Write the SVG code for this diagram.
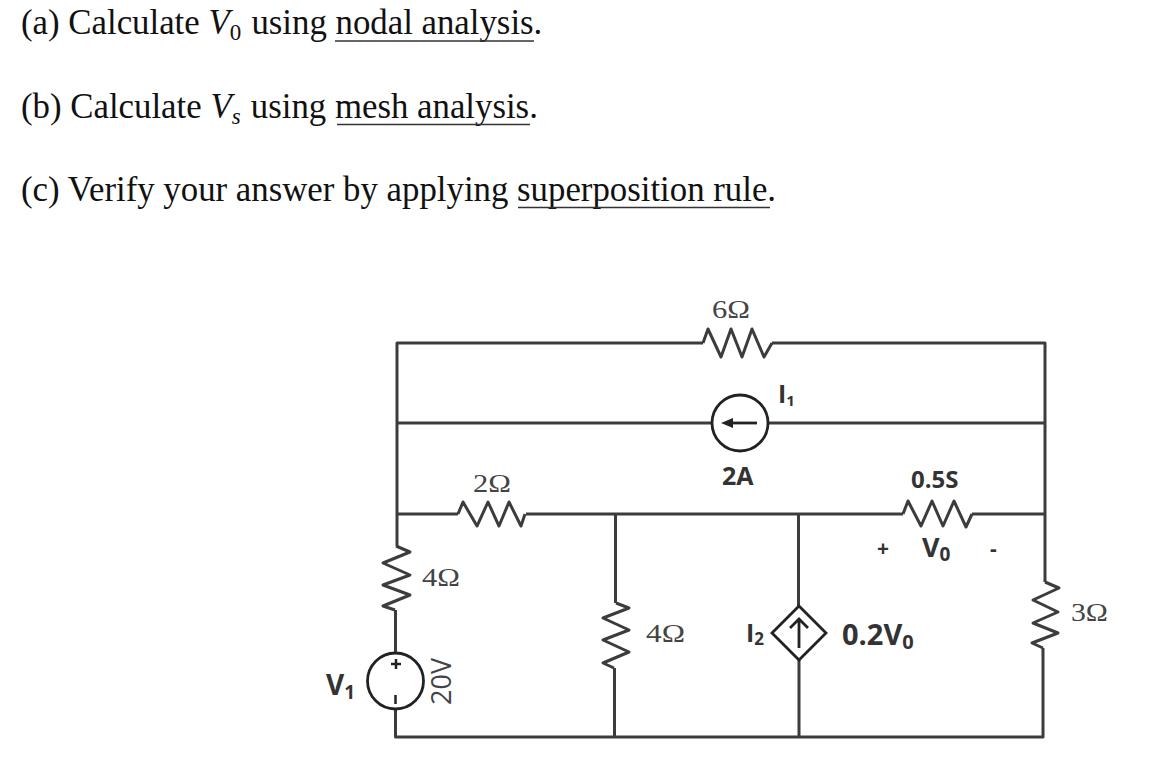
<svg xmlns="http://www.w3.org/2000/svg" width="1152" height="780" viewBox="0 0 1152 780">
<style>
.w{fill:none;stroke:#3c3c3c;stroke-width:3;stroke-linejoin:round}
.d{fill:none;stroke:#222;stroke-width:2.800}
.t{font-family:"Liberation Serif",serif;font-size:34.800px;fill:#111}
.i{font-style:italic}
.u{stroke:#333;stroke-width:1.600}
.o{font-family:"Liberation Serif",serif;font-size:25px;fill:#444}
.s{font-family:"Open Sans",sans-serif;font-weight:700;fill:#333}
</style>
<rect width="1152" height="780" fill="#fff"/>
<g id="question">
<text class="t" x="21" y="34">(a) Calculate <tspan class="i">V</tspan><tspan font-size="23" dy="6">0</tspan><tspan dy="-6" dx="1.500"> using nodal analysis.</tspan></text>
<text class="t" x="21" y="118">(b) Calculate <tspan class="i">V</tspan><tspan class="i" font-size="23" dy="6">s</tspan><tspan dy="-6" dx="1.500"> using mesh analysis.</tspan></text>
<text class="t" x="21" y="201">(c) Verify your answer by applying superposition rule.</text>
<line class="u" x1="335" y1="41" x2="534" y2="41"/>
<line class="u" x1="337" y1="124.500" x2="530" y2="124.500"/>
<line class="u" x1="518" y1="207.500" x2="770" y2="207.500"/>
</g>
<g id="connectors">
<path class="w" d="M397 546V343H703M772 343H1045V582"/>
<path class="w" d="M397 423H712M769 423H1045"/>
<path class="w" d="M397 514H458M526 514H903M972 514H1045"/>
<path class="w" d="M395.500 610V653M395.500 709V737H1043V648"/>
<path class="w" d="M615.500 514V603M614.500 668V737"/>
<path class="w" d="M798.500 514V606M799 660V737"/>
</g>
<g id="R-6ohm"><path class="w" d="M703 343L708 329L721 357L731 329L742 357L752 329L764 357L772 343"/><text class="o" x="712" y="318" textLength="38" lengthAdjust="spacingAndGlyphs">6Ω</text></g>
<g id="I1-source"><circle class="d" cx="740" cy="423" r="28"/><path class="d" d="M757 423H729"/><path d="M721 423L733 418V428Z" fill="#222"/><text class="s" x="778" y="403" font-size="25">I<tspan font-size="15" dy="3">1</tspan></text><text class="s" x="722" y="485" font-size="25">2A</text></g>
<g id="R-2ohm"><path class="w" d="M458 514L463 502L477 526L488 502L499 526L509 502L521 526L525 514"/><text class="o" x="473" y="492" textLength="38" lengthAdjust="spacingAndGlyphs">2Ω</text></g>
<g id="R-05S"><path class="w" d="M903 514L908 501L921 526L932 501L943 526L954 501L966 527L972 514"/><text class="s" x="911" y="488" font-size="24">0.5S</text></g>
<g id="Vo-label"><text class="s" x="877" y="556" font-size="21">+</text><text class="s" x="922" y="557" font-size="27">V<tspan font-size="19" dy="4">0</tspan></text><text class="s" x="990" y="556" font-size="21">-</text></g>
<g id="R-4ohm-left"><path class="w" d="M396 546L410 552L383 563L410 575L383 585L410 595L383 606L395 610"/><text class="o" x="422" y="586" textLength="38" lengthAdjust="spacingAndGlyphs">4Ω</text></g>
<g id="V1-source"><circle class="d" cx="395.500" cy="681" r="28"/><path d="M396 659V669M391 664H401M395.500 695V704" fill="none" stroke="#222" stroke-width="2.500"/><text class="s" x="326" y="695" font-size="28">V<tspan font-size="19" dy="4">1</tspan></text><text x="451" y="705" font-family="Open Sans,sans-serif" font-size="27" fill="#444" transform="rotate(-90 451 705)">20V</text></g>
<g id="R-4ohm-mid"><path class="w" d="M616 603L629 608L603 618L629 630L603 640L629 652L603 663L614 668"/><text class="o" x="646" y="642" textLength="39" lengthAdjust="spacingAndGlyphs">4Ω</text></g>
<g id="I2-source"><path class="d" d="M799 606L826 633L799 660L772 633Z"/><path class="d" stroke-width="2.500" d="M799 648V620M790 628L799 619L808 628"/><text class="s" x="746" y="642" font-size="25">I<tspan font-size="17" dy="3">2</tspan></text><text class="s" x="842" y="645" font-size="29">0.2V<tspan font-size="20" dy="4">0</tspan></text></g>
<g id="R-3ohm"><path class="w" d="M1045 582L1059 588L1033 600L1058 612L1033 623L1058 633L1032 643L1043 648"/><text class="o" x="1071" y="621" textLength="37" lengthAdjust="spacingAndGlyphs">3Ω</text></g>
</svg>
